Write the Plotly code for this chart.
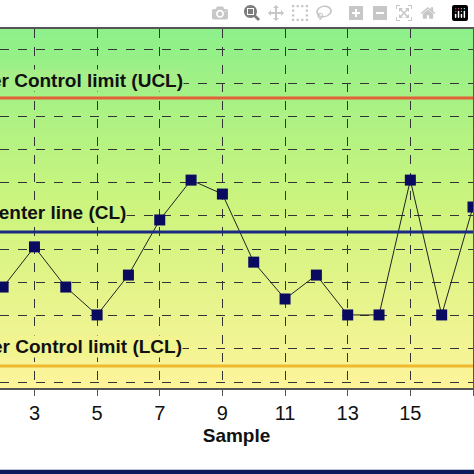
import plotly.graph_objects as go
import numpy as np

samples = list(range(2, 18))
values = [2.86, 4.07, 2.86, 2.02, 3.22, 4.88, 6.08, 5.66, 3.61, 2.5, 3.22, 2.02, 2.02, 6.08, 2.02, 5.27]
ucl = 8.55
cl = 4.52
lcl = 0.48
xticks = [3, 5, 7, 9, 11, 13, 15, 17]
labels = ["Upper Control limit (UCL)", "Center line (CL)", "Lower Control limit (LCL)"]

x0, x1 = 1.9, 17.0
y0, y1 = -0.18, 10.63

fig = go.Figure()
fig.add_trace(go.Scatter(x=samples, y=values, mode="lines+markers",
                         line=dict(color="#222222", width=1),
                         marker=dict(symbol="square", size=11, color="#0a0a60"),
                         showlegend=False))

# gradient background (green top -> yellow bottom)
top = np.array([0x8e, 0xf0, 0x8a]); mid = np.array([0xcf, 0xf5, 0x7e]); bot = np.array([0xfd, 0xf4, 0x9a])
n = 60
for i in range(n):
    t = i / (n - 1)
    c = bot + (mid - bot) * (t / 0.5) if t < 0.5 else mid + (top - mid) * ((t - 0.5) / 0.5)
    col = "rgb(%d,%d,%d)" % tuple(c.astype(int))
    fig.add_shape(type="rect", xref="paper", yref="paper", x0=0, x1=1, y0=i / n, y1=(i + 1) / n + 0.002,
                  fillcolor=col, line_width=0, layer="below")

for yv, col in [(ucl, "#e2603a"), (cl, "#1a2a82"), (lcl, "#f0b830")]:
    fig.add_shape(type="line", xref="paper", x0=0, x1=1, y0=yv, y1=yv,
                  line=dict(color=col, width=3), layer="above")

fnt = dict(family="Liberation Sans Narrow, Liberation Sans, Arial", size=19, color="#111111")
for txt, xr, yv, bg in [(labels[0], 7.78, 9.07, "#a6ef88"), (labels[1], 5.96, 5.09, "#cdf47f"),
                        (labels[2], 7.75, 1.08, "#f2f48f")]:
    fig.add_annotation(x=xr, y=yv, text="<b>" + txt + "</b>", showarrow=False,
                       xanchor="right", yanchor="middle", font=fnt, bgcolor=bg, borderpad=0)

# navy bands
fig.add_shape(type="rect", xref="paper", yref="paper", x0=-0.01, x1=1.01, y0=1.081, y1=1.1,
              fillcolor="#0a1a5a", line_width=0)
fig.add_shape(type="rect", xref="paper", yref="paper", x0=-0.01, x1=1.01, y0=-0.24, y1=-0.228,
              fillcolor="#0a1a5a", line_width=0)

fig.update_xaxes(range=[x0, x1], tickvals=xticks, ticks="outside", ticklen=6, tickcolor="#555",
                 showgrid=True, gridcolor="#333", griddash="dash", gridwidth=1,
                 showline=True, linecolor="#555", linewidth=2, mirror=True, zeroline=False,
                 tickfont=dict(family="Liberation Sans Narrow, Liberation Sans", size=20, color="#111"),
                 tickprefix="<b>", ticksuffix="</b>",
                 title=dict(text="<b>Sample</b>", standoff=6,
                            font=dict(family="Liberation Sans Narrow, Liberation Sans", size=19, color="#111")))
fig.update_yaxes(range=[y0, y1], dtick=1, tick0=0, showticklabels=False, ticks="",
                 showgrid=True, gridcolor="#333", griddash="dash", gridwidth=1,
                 showline=True, linecolor="#555", linewidth=1, mirror=True, zeroline=False)
fig.update_layout(width=474, height=474, margin=dict(l=0, r=1, t=29, b=86),
                  paper_bgcolor="white", plot_bgcolor="#cff57e")
fig.write_html("out.html", post_script="document.body.style.margin='0';")
